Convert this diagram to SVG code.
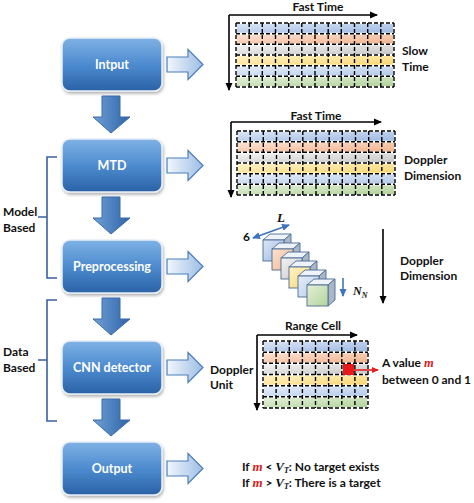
<svg xmlns="http://www.w3.org/2000/svg" width="474" height="503" viewBox="0 0 474 503">
<defs>
<linearGradient id="boxg" x1="0" y1="0" x2="0" y2="1">
<stop offset="0" stop-color="#7fb2e5"/><stop offset="0.5" stop-color="#4d8bcf"/><stop offset="1" stop-color="#2a62a6"/>
</linearGradient>
<linearGradient id="dag" x1="0" y1="0" x2="1" y2="0">
<stop offset="0" stop-color="#6fa0d8"/><stop offset="1" stop-color="#2e64a6"/>
</linearGradient>
<linearGradient id="rag" x1="0" y1="0" x2="1" y2="0">
<stop offset="0" stop-color="#f2f7fd"/><stop offset="1" stop-color="#9dbde4"/>
</linearGradient>
<filter id="sh" x="-10%" y="-10%" width="130%" height="130%">
<feDropShadow dx="1" dy="2" stdDeviation="1.5" flood-color="#000" flood-opacity="0.3"/>
</filter>
<marker id="ah" markerWidth="8" markerHeight="8" refX="7" refY="4" orient="auto" markerUnits="userSpaceOnUse">
<path d="M0,0.5 L8,4 L0,7.5 z" fill="#000"/>
</marker>
<marker id="bh" markerWidth="8" markerHeight="8" refX="7" refY="4" orient="auto" markerUnits="userSpaceOnUse">
<path d="M0,0.5 L8,4 L0,7.5 z" fill="#3f73c0"/>
</marker>
<marker id="bhs" markerWidth="8" markerHeight="8" refX="1" refY="4" orient="auto" markerUnits="userSpaceOnUse">
<path d="M8,0.5 L0,4 L8,7.5 z" fill="#3f73c0"/>
</marker>
<marker id="rh" markerWidth="7" markerHeight="7" refX="6" refY="3.5" orient="auto" markerUnits="userSpaceOnUse">
<path d="M0,0.5 L7,3.5 L0,6.5 z" fill="#e32020"/>
</marker>
<linearGradient id="cb" x1="0" y1="0" x2="1" y2="1"><stop offset="0" stop-color="#dbe6f6"/><stop offset="1" stop-color="#9db9e2"/></linearGradient>
<linearGradient id="co" x1="0" y1="0" x2="1" y2="1"><stop offset="0" stop-color="#fde3d3"/><stop offset="1" stop-color="#f1b48f"/></linearGradient>
<linearGradient id="cg" x1="0" y1="0" x2="1" y2="1"><stop offset="0" stop-color="#f3f3f3"/><stop offset="1" stop-color="#c9c9c9"/></linearGradient>
<linearGradient id="cy" x1="0" y1="0" x2="1" y2="1"><stop offset="0" stop-color="#fff2c8"/><stop offset="1" stop-color="#f8d873"/></linearGradient>
<linearGradient id="cl" x1="0" y1="0" x2="1" y2="1"><stop offset="0" stop-color="#e6eefa"/><stop offset="1" stop-color="#b4cbea"/></linearGradient>
<linearGradient id="cn" x1="0" y1="0" x2="1" y2="1"><stop offset="0" stop-color="#e4f0da"/><stop offset="1" stop-color="#b3d39b"/></linearGradient>
</defs>
<style>
.box{fill:url(#boxg);stroke:#e8eef6;stroke-width:1.5;filter:url(#sh)}
.bt{font-family:Lato,"Open Sans","Liberation Sans",sans-serif;font-weight:bold;font-size:12.5px;fill:#fff;text-anchor:middle}
.t{font-family:Lato,"Open Sans","Liberation Sans",sans-serif;font-weight:bold;font-size:12px;fill:#111}
.da{fill:url(#dag);stroke:#3a6aa8;stroke-width:1}
.ra{fill:url(#rag);stroke:#4a7ebb;stroke-width:1.2}
.br{fill:none;stroke:#3a5fa0;stroke-width:1.6}
.ax{stroke:#000;stroke-width:1.6;fill:none;marker-end:url(#ah)}
.gl{stroke:#000;stroke-width:1.4;stroke-dasharray:4 2;fill:none}
.m{font-family:"Liberation Serif","DejaVu Serif",serif;font-style:italic;font-weight:bold;fill:#d42020}
.v{font-family:"Liberation Serif","DejaVu Serif",serif;font-style:italic;font-weight:bold;fill:#111}
.cs{stroke:#4b6b92;stroke-width:0.9}
</style>

<g id="node-input"><rect class="box" x="62" y="38" width="100" height="53" rx="8"/><text class="bt" x="112" y="69">Intput</text></g>
<g id="node-mtd"><rect class="box" x="62" y="139" width="100" height="53" rx="8"/><text class="bt" x="112" y="170">MTD</text></g>
<g id="node-pre"><rect class="box" x="62" y="240" width="100" height="53" rx="8"/><text class="bt" x="112" y="271">Preprocessing</text></g>
<g id="node-cnn"><rect class="box" x="62" y="341" width="100" height="53" rx="8"/><text class="bt" x="112" y="372">CNN detector</text></g>
<g id="node-out"><rect class="box" x="62" y="442" width="100" height="53" rx="8"/><text class="bt" x="112" y="473">Output</text></g>

<g id="connectors">
<path class="da" d="M102,96 H120 V117 H130 L111,133 L93,117 H102 Z"/>
<path class="da" d="M102,197 H120 V218 H130 L111,234 L93,218 H102 Z"/>
<path class="da" d="M102,298 H120 V319 H130 L111,335 L93,319 H102 Z"/>
<path class="da" d="M102,399 H120 V420 H130 L111,436 L93,420 H102 Z"/>
<path class="ra" d="M167,57 H188 V49.5 L203,64.5 L188,79.5 V72 H167 Z"/>
<path class="ra" d="M167,158 H188 V150.5 L203,165.5 L188,180.5 V173 H167 Z"/>
<path class="ra" d="M167,259 H188 V251.5 L203,266.5 L188,281.5 V274 H167 Z"/>
<path class="ra" d="M167,360 H188 V352.5 L203,367.5 L188,382.5 V375 H167 Z"/>
<path class="ra" d="M167,461 H188 V453.5 L203,468.5 L188,483.5 V476 H167 Z"/>
</g>

<g id="bracket-model">
<path class="br" d="M57,157 H47 V278 H57 M47,217 H38"/>
<text class="t" x="3" y="216">Model</text><text class="t" x="3" y="232">Based</text>
</g>
<g id="bracket-data">
<path class="br" d="M57,300 H47 V421 H57 M47,360 H38"/>
<text class="t" x="3" y="356">Data</text><text class="t" x="3" y="372">Based</text>
</g>

<g id="grid-input">
<rect x="237" y="24" width="156" height="8.7" fill="url(#cb)"/>
<rect x="237" y="34.7" width="156" height="8.7" fill="url(#co)"/>
<rect x="237" y="45.3" width="156" height="8.7" fill="url(#cg)"/>
<rect x="237" y="56" width="156" height="8.7" fill="url(#cy)"/>
<rect x="237" y="66.7" width="156" height="8.7" fill="url(#cl)"/>
<rect x="237" y="77.3" width="156" height="8.7" fill="url(#cn)"/>
<path class="gl" d="M236,23 H394 M236,33.7 H394 M236,44.3 H394 M236,55 H394 M236,65.7 H394 M236,76.3 H394 M236,87 H394"/>
<path class="gl" d="M236,23 V87 M249.2,23 V87 M262.3,23 V87 M275.5,23 V87 M288.7,23 V87 M301.8,23 V87 M315,23 V87 M328.2,23 V87 M341.3,23 V87 M354.5,23 V87 M367.7,23 V87 M380.8,23 V87 M394,23 V87"/>
<path class="ax" d="M229,15 H377"/>
<path class="ax" d="M229,15 V90"/>
<text class="t" x="318" y="11" text-anchor="middle">Fast Time</text>
<text class="t" x="402" y="55">Slow</text>
<text class="t" x="402" y="71">Time</text>
</g>

<g id="grid-mtd">
<rect x="238" y="132" width="156" height="8.7" fill="url(#cb)"/>
<rect x="238" y="142.7" width="156" height="8.7" fill="url(#co)"/>
<rect x="238" y="153.3" width="156" height="8.7" fill="url(#cg)"/>
<rect x="238" y="164" width="156" height="8.7" fill="url(#cy)"/>
<rect x="238" y="174.7" width="156" height="8.7" fill="url(#cl)"/>
<rect x="238" y="185.3" width="156" height="8.7" fill="url(#cn)"/>
<path class="gl" d="M237,131 H395 M237,141.7 H395 M237,152.3 H395 M237,163 H395 M237,173.7 H395 M237,184.3 H395 M237,195 H395"/>
<path class="gl" d="M237,131 V195 M250.2,131 V195 M263.3,131 V195 M276.5,131 V195 M289.7,131 V195 M302.8,131 V195 M316,131 V195 M329.2,131 V195 M342.3,131 V195 M355.5,131 V195 M368.7,131 V195 M381.8,131 V195 M395,131 V195"/>
<path class="ax" d="M231,122 H381"/>
<path class="ax" d="M231,122 V197"/>
<text class="t" x="316" y="120" text-anchor="middle">Fast Time</text>
<text class="t" x="404" y="164">Doppler</text>
<text class="t" x="404" y="180">Dimension</text>
</g>

<g id="cubes">
<path d="M253,238 L289,225" stroke="#3f73c0" stroke-width="1.6" fill="none" marker-start="url(#bhs)" marker-end="url(#bh)"/>
<text class="v" x="277" y="222" font-size="13">L</text>
<text x="243" y="241" font-family="Lato,'Liberation Sans',sans-serif" font-weight="bold" font-size="12" fill="#111">6</text>
<g class="cs">
<path d="M263,240 L270,234 H291 L284,240 Z" fill="#eef3fa"/><path d="M284,240 L291,234 V255 L284,261 Z" fill="#a9b7c9"/><rect x="263" y="240" width="21" height="21" fill="url(#cb)"/>
<path d="M272,249 L279,243 H300 L293,249 Z" fill="#eef3fa"/><path d="M293,249 L300,243 V264 L293,270 Z" fill="#a9b7c9"/><rect x="272" y="249" width="21" height="21" fill="url(#co)"/>
<path d="M281,258 L288,252 H309 L302,258 Z" fill="#eef3fa"/><path d="M302,258 L309,252 V273 L302,279 Z" fill="#a9b7c9"/><rect x="281" y="258" width="21" height="21" fill="url(#cg)"/>
<path d="M289,267 L296,261 H317 L310,267 Z" fill="#eef3fa"/><path d="M310,267 L317,261 V282 L310,288 Z" fill="#a9b7c9"/><rect x="289" y="267" width="21" height="21" fill="url(#cy)"/>
<path d="M298,276 L305,270 H326 L319,276 Z" fill="#eef3fa"/><path d="M319,276 L326,270 V291 L319,297 Z" fill="#a9b7c9"/><rect x="298" y="276" width="21" height="21" fill="url(#cl)"/>
<path d="M307,285 L314,279 H335 L328,285 Z" fill="#eef3fa"/><path d="M328,285 L335,279 V300 L328,306 Z" fill="#a9b7c9"/><rect x="307" y="285" width="21" height="21" fill="url(#cn)"/>
</g>
<path d="M343,278 V296" stroke="#3f73c0" stroke-width="1.6" fill="none" marker-end="url(#bh)"/>
<text class="v" x="353" y="295" font-size="12">N<tspan font-size="8" dy="3">N</tspan></text>
<path class="ax" d="M383,229 V303"/>
<text class="t" x="400" y="265">Doppler</text>
<text class="t" x="400" y="280">Dimension</text>
</g>

<g id="grid-cnn">
<rect x="264" y="342" width="103" height="9.2" fill="url(#cb)"/>
<rect x="264" y="353.2" width="103" height="9.2" fill="url(#co)"/>
<rect x="264" y="364.3" width="103" height="9.2" fill="url(#cg)"/>
<rect x="264" y="375.5" width="103" height="9.2" fill="url(#cy)"/>
<rect x="264" y="386.7" width="103" height="9.2" fill="url(#cl)"/>
<rect x="264" y="397.8" width="103" height="9.2" fill="url(#cn)"/>
<path class="gl" d="M263,341 H368 M263,352.2 H368 M263,363.3 H368 M263,374.5 H368 M263,385.7 H368 M263,396.8 H368 M263,408 H368"/>
<path class="gl" d="M263,341 V408 M276.1,341 V408 M289.3,341 V408 M302.4,341 V408 M315.5,341 V408 M328.6,341 V408 M341.8,341 V408 M354.9,341 V408 M368,341 V408"/>
<rect x="343" y="364" width="11" height="11" fill="#e51b1b"/>
<path d="M354,370 H378" stroke="#e32020" stroke-width="1.6" marker-end="url(#rh)"/>
<path class="ax" d="M257,335 H357"/>
<path class="ax" d="M257,335 V410"/>
<text class="t" x="313" y="330" text-anchor="middle">Range Cell</text>
<text class="t" x="210" y="374">Doppler</text>
<text class="t" x="210" y="389">Unit</text>
<text class="t" x="382" y="367">A value <tspan class="m" font-size="12.5">m</tspan></text>
<text class="t" x="382" y="384">between 0 and 1</text>
</g>

<g id="output-text">
<text class="t" x="242" y="471">If <tspan class="m" font-size="13">m</tspan> &lt; <tspan class="v" font-size="13">V</tspan><tspan class="v" font-size="8" dy="2">T</tspan><tspan dy="-2">: No target exists</tspan></text>
<text class="t" x="242" y="487">If <tspan class="m" font-size="13">m</tspan> &gt; <tspan class="v" font-size="13">V</tspan><tspan class="v" font-size="8" dy="2">T</tspan><tspan dy="-2">: There is a target</tspan></text>
</g>
</svg>
